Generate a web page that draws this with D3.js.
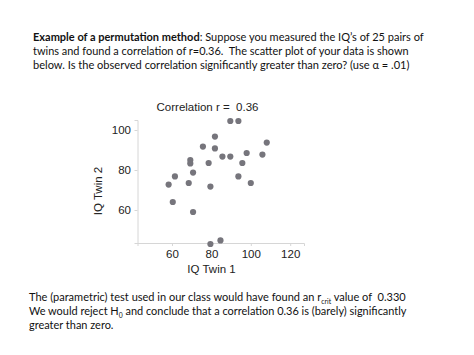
<!DOCTYPE html>
<html><head><meta charset="utf-8">
<script src="https://cdn.jsdelivr.net/npm/d3@7"></script>
<style>body{margin:0;background:#fff}svg{display:block}</style>
</head><body>
<script>
// Data
const twin1 = [89.6,93.7,81.8,75.7,81.8,108.1,85.6,89.6,97.9,105.9,69.3,69.3,78.6,95.7,70.7,61.5,93.7,58.3,68.5,79.5,100,60.4,70.7,79.5,84.6];
const twin2 = [104.5,104.5,96.7,91.7,90.8,93.7,86.7,86.7,88.5,87.7,85,83.3,83.5,83.5,78.7,76.8,76.8,72.7,73.5,71.7,73.5,64,59,43,44.8];
const xTicks = [60,80,100,120];
const yTicks = [60,80,100];
const chartTitle = "Correlation r =\u00a0 0.36";
const xLabel = "IQ Twin 1";
const yLabel = "IQ Twin 2";

const W = 474, H = 355;
const svg = d3.select("body").append("svg").attr("width", W).attr("height", H);

const bodyFont = "Lato, 'Open Sans', sans-serif";
// fit a text element to a target width by scaling its font-size
function fit(t, target, base) {
  t.attr("font-size", base);
  const w = t.node().getComputedTextLength();
  t.attr("font-size", base * target / w);
  return t;
}

// Top paragraph
const topG = svg.append("g").attr("font-family", bodyFont).attr("fill", "#111");
const t1 = topG.append("text").attr("x", 33).attr("y", 41);
t1.append("tspan").attr("font-weight", "bold").text("Example of a permutation method");
t1.append("tspan").text(": Suppose you measured the IQ\u2019s of 25 pairs of");
fit(t1, 391, 13);
const t2 = topG.append("text").attr("x", 33).attr("y", 55)
  .text("twins and found a correlation of r=0.36.\u00a0 The scatter plot of your data is shown");
fit(t2, 376, 13);
const t3 = topG.append("text").attr("x", 33).attr("y", 69)
  .text("below. Is the observed correlation significantly greater than zero? (use \u03b1 = .01)");
fit(t3, 377, 13);

// Bottom paragraph
const botG = svg.append("g").attr("font-family", bodyFont).attr("fill", "#111");
const b1 = botG.append("text").attr("x", 29).attr("y", 301);
b1.append("tspan").text("The (parametric) test used in our class would have found an r");
b1.append("tspan").attr("font-size", "0.62em").attr("dy", 3).text("crit");
b1.append("tspan").attr("dy", -3).text(" value of\u00a0 0.330");
fit(b1, 377, 13);
const b2 = botG.append("text").attr("x", 29).attr("y", 315);
b2.append("tspan").text("We would reject H");
b2.append("tspan").attr("font-size", "0.62em").attr("dy", 3).text("0");
b2.append("tspan").attr("dy", -3).text(" and conclude that a correlation 0.36 is (barely) significantly");
fit(b2, 378, 13);
const b3 = botG.append("text").attr("x", 29).attr("y", 329).text("greater than zero.");
b3.attr("font-size", b2.attr("font-size"));

// Scatter chart
const chartFont = "'Liberation Sans', Arial, sans-serif";
const fs = 11.5;
const x = d3.scaleLinear().domain([42.5, 127]).range([137.5, 304]);
const y = d3.scaleLinear().domain([43.5, 105]).range([243, 120]);

const gx = svg.append("g").attr("transform", `translate(0,${y.range()[0]})`)
  .call(d3.axisBottom(x).tickValues(xTicks).tickSize(3).tickPadding(3.5));
const gy = svg.append("g").attr("transform", `translate(${x.range()[0]},0)`)
  .call(d3.axisLeft(y).tickValues(yTicks).tickSize(3).tickPadding(3.5));
[gx, gy].forEach(g => {
  g.select(".domain").attr("stroke", "#d6d6d6");
  g.selectAll(".tick line").attr("stroke", "#d6d6d6");
  g.selectAll(".tick text").attr("fill", "#222").attr("font-size", fs).attr("font-family", chartFont);
});

svg.append("text").attr("x", 207.5).attr("y", 110.5).attr("text-anchor", "middle")
  .attr("font-family", chartFont).attr("font-size", fs).attr("fill", "#222").text(chartTitle);
svg.append("text").attr("x", 211.5).attr("y", 272.5).attr("text-anchor", "middle")
  .attr("font-family", chartFont).attr("font-size", fs).attr("fill", "#222").text(xLabel);
svg.append("text").attr("transform", "translate(102,191) rotate(-90)").attr("text-anchor", "middle")
  .attr("font-family", chartFont).attr("font-size", fs).attr("fill", "#222").text(yLabel);

const pts = twin1.map((v, i) => ({x: v, y: twin2[i]}));
svg.append("g").selectAll("circle").data(pts).join("circle")
  .attr("cx", d => x(d.x)).attr("cy", d => y(d.y)).attr("r", 3.1).attr("fill", "#76757c");
</script>
</body></html>
